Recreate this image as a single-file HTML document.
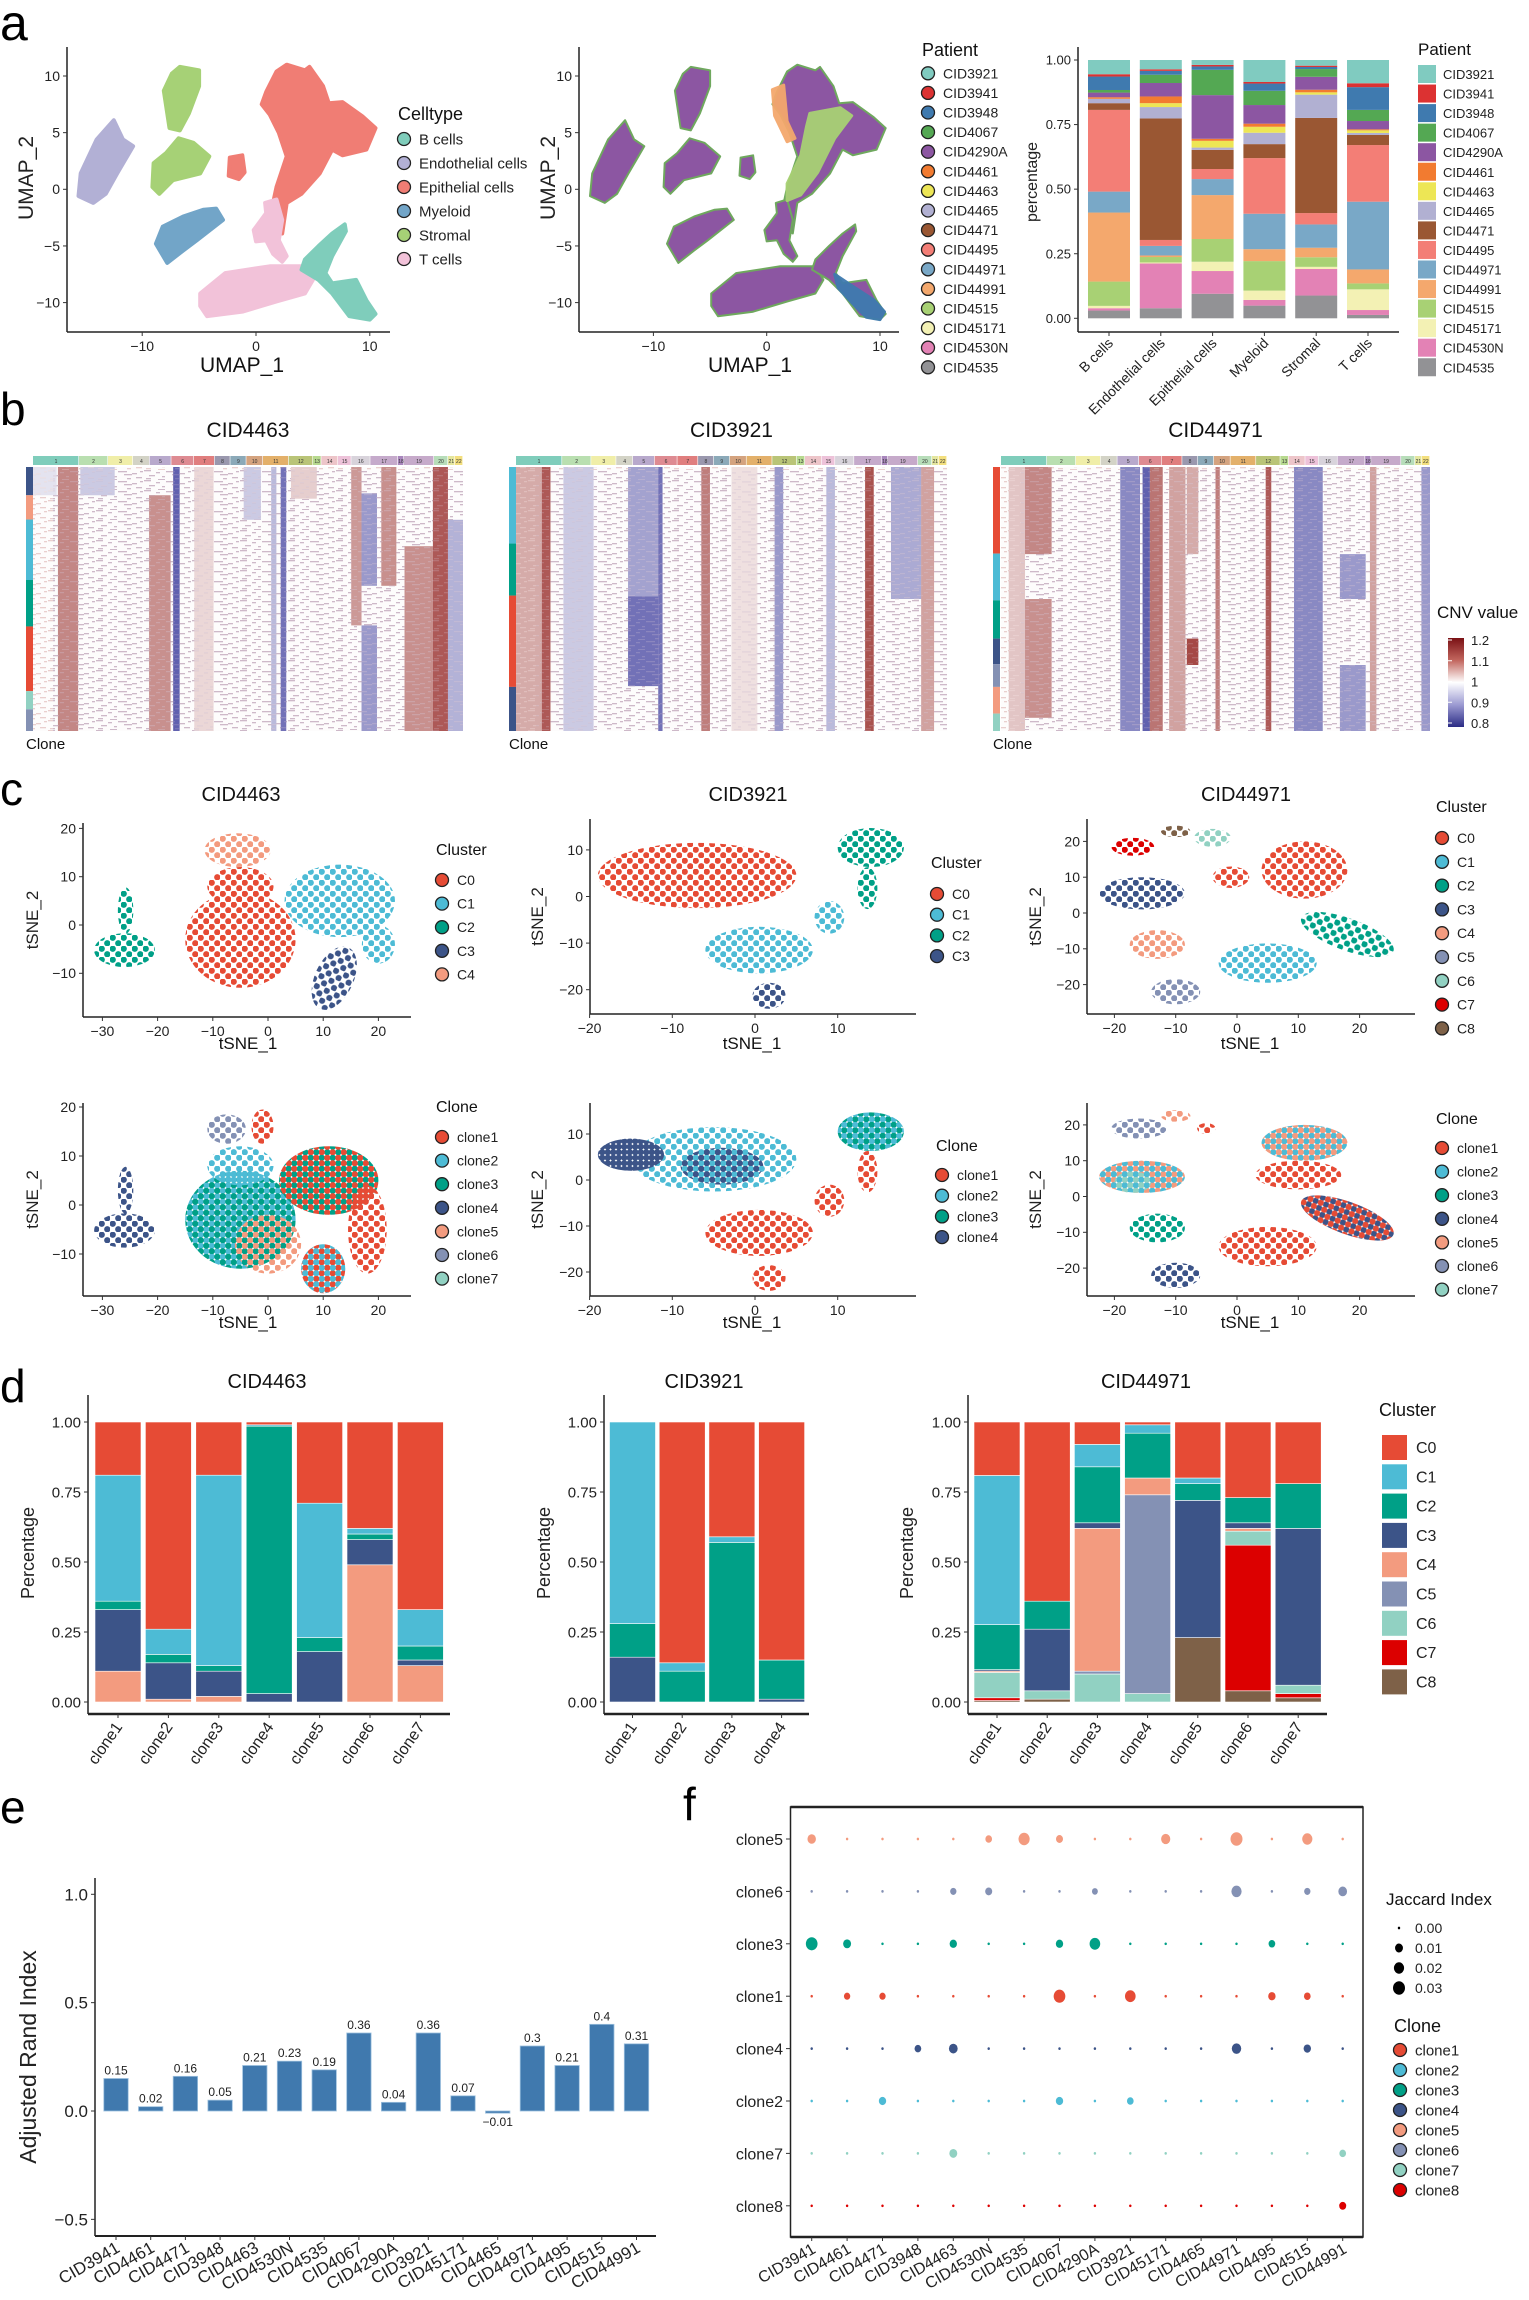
<!DOCTYPE html>
<html><head><meta charset="utf-8">
<style>
body{margin:0;background:#fff}
svg{display:block;font-family:"Liberation Sans",Arial,sans-serif}
</style></head>
<body>
<svg id="fig" width="1529" height="2300" viewBox="0 0 1529 2300" xmlns="http://www.w3.org/2000/svg">
<defs id="defs">
<linearGradient id="cnvGrad" x1="0" y1="0" x2="0" y2="1">
<stop offset="0" stop-color="#7A1014"/><stop offset="0.25" stop-color="#C2665E"/><stop offset="0.5" stop-color="#FFFFFF"/><stop offset="0.75" stop-color="#9C9BD2"/><stop offset="1" stop-color="#2B2C85"/>
</linearGradient>
</defs>
</svg>
<script>
// ================= DATA =================
const celltypes=['B cells','Endothelial cells','Epithelial cells','Myeloid','Stromal','T cells'];
const celltypeColors=['#7FCDBB','#B2B0D5','#F07D74','#72A5C8','#A6D176','#F2C2D9'];
const patients=['CID3921','CID3941','CID3948','CID4067','CID4290A','CID4461','CID4463','CID4465','CID4471','CID4495','CID44971','CID44991','CID4515','CID45171','CID4530N','CID4535'];
const patientColors=['#80CBC0','#DC3232','#3F7AAF','#54A853','#8C56A2','#F27B30','#EDE655','#B1B0D2','#9A5733','#F37E76','#79A8C7','#F4A86D','#A8D174','#F3F1B4','#E382B5','#929295'];
const pctBcells=[.055,.009,.052,.01,.018,.006,0,.017,.026,.316,.081,.267,.094,.009,.009,.03];
const pctEndothelial=[.036,.006,.015,.032,.052,.026,.015,.044,.47,.023,.037,.006,.021,.004,.173,.039];
const pctEpithelial=[.019,.006,.013,.098,.169,.008,.026,.009,.074,.039,.062,.17,.088,.036,.088,.095];
const pctMyeloid=[.085,.006,.028,.055,.072,.012,.023,.044,.054,.215,.137,.046,.114,.036,.022,.049];
const pctStromal=[.022,.005,.008,.03,.05,.01,.009,.09,.368,.044,.09,.037,.037,.008,.103,.088];
const pctTcells=[.09,.015,.088,.043,.032,.004,.01,.008,.039,.219,.262,.054,.023,.08,.019,.013];
const pctTicks=[0,0.25,0.5,0.75,1];
const pctTickLabels=['0.00','0.25','0.50','0.75','1.00'];
const umapTicks=[-10,0,10];
const umapYTicks=[-10,-5,0,5,10];

const chrWidths=[138,87,75,50,65,68,62,47,48,50,77,73,25,50,40,57,83,18,90,42,20,25];
const chrColors=['#7FCDBB','#B9DFB0','#F0EEA8','#D3D3C6','#B8A9CC','#DE8B92','#E07E7E','#9A98AE','#8BA9B8','#D4A37F','#E3B06A','#B9C477','#B7D98F','#EDC5C9','#EDC2D9','#D8D3DB','#C5AACB','#A886BC','#C6AACA','#B7DDB9','#E4E69E','#F3DF7E'];
const hm1Clones=[[0,.107,3],[.107,.199,4],[.199,.428,1],[.428,.604,2],[.604,.849,0],[.849,.918,6],[.918,1,5]];
const hm2Clones=[[0,.29,1],[.29,.487,2],[.487,.833,0],[.833,1,3]];
const hm3Clones=[[0,.328,0],[.328,.505,1],[.505,.65,2],[.65,.747,3],[.747,.833,5],[.833,.934,4],[.934,1,6]];
// bands: [x0frac,x1frac,value,row0,row1]
const hm1Bands=[[0,.055,-.15,0,.107],[.058,.105,.65,0,1],[.11,.19,-.3,0,.107],[.27,.32,.6,.107,1],[.326,.341,-.95,0,1],[.375,.42,.2,0,1],[.49,.53,-.3,0,.2],[.554,.566,-.4,0,1],[.576,.589,-.85,0,1],[.6,.66,.25,0,.12],[.74,.764,.55,0,.6],[.764,.8,-.6,.1,.45],[.764,.8,-.6,.6,1],[.81,.845,.6,0,.45],[.864,.93,.6,.3,1],[.93,.965,.9,0,1],[.965,1,-.45,.2,1]];
const hm2Bands=[[0,.06,.45,0,1],[.06,.08,.9,0,1],[.11,.18,-.3,0,1],[.26,.33,-.55,0,.49],[.26,.33,-.85,.49,.83],[.33,.34,-.85,0,1],[.43,.45,.7,0,1],[.5,.56,.15,0,1],[.6,.62,-.6,0,1],[.72,.74,-.4,0,1],[.81,.83,.95,0,1],[.87,.94,-.5,0,.5],[.94,.97,.5,0,1]];
const hm3Bands=[[.018,.056,.3,0,1],[.056,.118,.65,0,.33],[.056,.118,.6,.5,.95],[.278,.324,-.7,0,1],[.33,.347,-.95,0,1],[.347,.377,.75,0,1],[.392,.43,.5,0,1],[.433,.46,.45,0,.33],[.433,.46,1,.65,.75],[.5,.51,.7,0,1],[.617,.63,.9,0,1],[.683,.75,-.7,0,1],[.79,.85,-.6,.33,.5],[.79,.85,-.6,.75,1],[.86,.875,.5,0,1],[.98,1,-.6,0,1]];
const cnvTicks=[1.2,1.1,1,0.9,0.8];
const cnvTickLabels=['1.2','1.1','1','0.9','0.8'];

const clusterColors=['#E64B35','#4DBBD5','#00A087','#3C5488','#F39B7F','#8491B4','#91D1C2','#DC0000','#7E6148'];
const tsneXTicks1=[-30,-20,-10,0,10,20];
const tsneYTicks1=[-10,0,10,20];
const tsneXTicks2=[-20,-10,0,10];
const tsneYTicks2=[-20,-10,0,10];
const tsneXTicks3=[-20,-10,0,10,20];
const tsneYTicks3=[-20,-10,0,10,20];
// ellipse clouds: [cx, cy, rx, ry, rotDeg, colorIdx, variant]
const c1Cloud=[[-26,-5.2,5.5,3.5,0,2,0],[-25.8,3,1.4,4.8,0,2,0],[-5.5,15.5,6,3.5,0,4,0],[-5,-3,10,10,0,0,0],[-5,8,6,4,0,0,0],[13,5,10,7.5,0,1,0],[20,-4,3,4,0,1,0],[12,-11,3.5,7,25,3,0]];
const c4Cloud=[[-26,-5.2,5.5,3.5,0,3,0],[-25.8,3,1.4,4.8,0,3,0],[-7.5,15.5,3.5,3,0,5,0],[-1,16,2,3.5,0,0,0],[-5,-3,10,10,0,1,0],[-5,-3,10,10,0,2,1],[-5,8,6,4,0,1,1],[0,-8,6,6,0,4,0],[11,5,9,7,0,2,0],[11,5,9,7,0,0,1],[18,-5,3.5,9,0,0,0],[10,-13,4,5,0,0,1],[10,-13,4,5,0,1,0]];
const c2Cloud=[[-7,4.5,12,7,0,0,0],[0.5,-11.5,6.5,5,0,1,0],[9,-4.5,1.8,3.5,0,1,0],[14,10.5,4,4.2,0,2,0],[13.6,1.8,1.2,4.5,0,2,0],[1.7,-21.3,2,2.8,0,3,0]];
const c5Cloud=[[-5,4.5,10,7,0,1,0],[-15,5.5,4,3.5,0,3,1],[-15,5.5,4,3.5,0,3,0],[-4,3,5,4,0,3,1],[0.5,-11.5,6.5,5,0,0,0],[9,-4.5,1.8,3.5,0,0,0],[14,10.5,4,4.2,0,2,0],[14,10.5,4,4.2,0,1,1],[13.6,1.8,1.2,4.5,0,0,0],[1.7,-21.3,2,2.8,0,0,0]];
const c3Cloud=[[-17,18.5,3.5,2.5,0,7,0],[-10,22.8,2.4,1.6,0,8,0],[-4,21,3,2.5,0,6,0],[11,12,7,8,0,0,0],[-1,10,3,3,0,0,0],[-15.5,5.5,7,4.5,0,3,0],[18,-6,8,4.5,20,2,0],[5,-14,8,5.5,0,1,0],[-13,-8.8,4.5,4,0,4,0],[-10,-22,4,3.5,0,5,0]];
const c6Cloud=[[-16,19,4.5,2.8,0,5,0],[-10,22.5,2.4,1.6,0,4,0],[-5,19,1.5,1.5,0,0,0],[11,15,7,5,0,1,0],[11,15,7,5,0,4,1],[10,6,7,4,0,0,0],[-15.5,5.5,7,4.5,0,4,0],[-15.5,5.5,7,4.5,0,1,1],[-17,4,3,3,0,6,0],[18,-6,8,4.5,20,3,0],[18,-6,8,4.5,20,0,1],[5,-14,8,5.5,0,0,0],[-13,-8.8,4.5,4,0,2,0],[-10,-22,4,3.5,0,3,0]];

const d1Clones=['clone1','clone2','clone3','clone4','clone5','clone6','clone7'];
const d1C0=[.19,.74,.19,.01,.29,.38,.67];
const d1C1=[.45,.09,.68,.005,.48,.02,.13];
const d1C2=[.03,.03,.02,.955,.05,.02,.05];
const d1C3=[.22,.13,.09,.03,.18,.09,.02];
const d1C4=[.11,.01,.02,0,0,.49,.13];
const d2Clones=['clone1','clone2','clone3','clone4'];
const d2C0=[0,.86,.41,.85];
const d2C1=[.72,.03,.02,0];
const d2C2=[.12,.11,.57,.14];
const d2C3=[.16,0,0,.01];
const d3Clones=['clone1','clone2','clone3','clone4','clone5','clone6','clone7'];
const d3C0=[.19,.64,.08,.01,.20,.27,.22];
const d3C1=[.53,0,.08,.03,.02,0,0];
const d3C2=[.16,.10,.20,.16,.06,.09,.16];
const d3C3=[.005,.22,.02,0,.49,.02,.56];
const d3C4=[.005,0,.51,.06,0,.01,0];
const d3C5=[0,0,.01,.71,0,0,0];
const d3C6=[.09,.03,.10,.03,0,.05,.03];
const d3C7=[.01,0,0,0,0,.52,.015];
const d3C8=[.005,.01,0,0,.23,.04,.015];

const ariSamples=['CID3941','CID4461','CID4471','CID3948','CID4463','CID4530N','CID4535','CID4067','CID4290A','CID3921','CID45171','CID4465','CID44971','CID4495','CID4515','CID44991'];
const ariValues=[0.15,0.02,0.16,0.05,0.21,0.23,0.19,0.36,0.04,0.36,0.07,-0.01,0.3,0.21,0.4,0.31];
const ariTicks=[-0.5,0,0.5,1.0];
const ariTickLabels=['\u22120.5','0.0','0.5','1.0'];

const jacRows=['clone5','clone6','clone3','clone1','clone4','clone2','clone7','clone8'];
const jacRowColor=[4,5,2,0,3,1,6,7];
const jacClone5=[.012,0,0,0,0,.006,.025,.007,0,0,.015,0,.03,0,.02,0];
const jacClone6=[0,0,0,0,.005,.007,0,0,.004,0,0,0,.02,0,.005,.013];
const jacClone3=[.028,.01,0,0,.008,0,0,.008,.022,0,0,0,0,.006,0,0];
const jacClone1=[0,.005,.005,0,0,0,0,.028,0,.022,0,0,0,.008,.006,0];
const jacClone4=[0,0,0,.006,.013,0,0,0,0,0,0,0,.016,0,.008,0];
const jacClone2=[0,0,.008,0,0,0,0,.008,0,.006,0,0,0,0,0,0];
const jacClone7=[0,0,0,0,.01,0,0,0,0,0,0,0,0,0,0,.006];
const jacClone8=[0,0,0,0,0,0,0,0,0,0,0,0,0,0,0,.007];
const jacLegendVals=[0,0.01,0.02,0.03];
const jacLegendLabels=['0.00','0.01','0.02','0.03'];

// ================= HELPERS =================
const NS='http://www.w3.org/2000/svg';
const svg=document.getElementById('fig');
const defs=document.getElementById('defs');
function mk(tag,attrs,parent){const e=document.createElementNS(NS,tag);for(const k in attrs)e.setAttribute(k,attrs[k]);(parent||svg).appendChild(e);return e;}
function tx(s,attrs,parent){const t=mk('text',attrs,parent);t.textContent=s;return t;}
function nm(e,n){
  
  
  return e;
}
function G(n){const g=mk('g',{});nm(g,n);return g;}

const spk=[[0,0,7],[12,2,4],[22,1,9],[36,3,5],[5,5,6],[18,6,3],[28,4,8],[40,7,6],[2,8,5],[14,9,7],[31,8,4],[44,1,3]];
function speckPattern(id,color){
  const p=mk('pattern',{id:id,width:48,height:10,patternUnits:'userSpaceOnUse'},defs);
  spk.forEach(s=>mk('rect',{x:s[0],y:s[1],width:s[2],height:1.3,fill:color},p));
}
speckPattern('spkR','#A0302A');speckPattern('spkB','#5554B0');speckPattern('spkW','#FFFFFF');
clusterColors.forEach((c,i)=>{
  const a=mk('pattern',{id:'dA'+i,width:11,height:11,patternUnits:'userSpaceOnUse'},defs);
  mk('circle',{cx:2.75,cy:2.75,r:3.1,fill:c},a);mk('circle',{cx:8.25,cy:8.25,r:3.1,fill:c},a);
  const b=mk('pattern',{id:'dB'+i,width:11,height:11,patternUnits:'userSpaceOnUse'},defs);
  mk('circle',{cx:8.25,cy:2.75,r:3.1,fill:c},b);mk('circle',{cx:2.75,cy:8.25,r:3.1,fill:c},b);
});

function panelLabel(s,x,y,size){const t=tx(s,{x:x,y:y,'font-size':size||48,fill:'#000'});nm(t,'panel-label-'+s);}
function axisLine(g,x1,y1,x2,y2,name,w){const l=mk('line',{x1:x1,y1:y1,x2:x2,y2:y2,stroke:'#222',"stroke-width":w||1.5},g);nm(l,name);}
function yAxis(g,x,top,bottom,ticks,labels,ys,fs,prefix){
  axisLine(g,x,top,x,bottom,prefix+'-y-axis-line');
  ticks.forEach((t,i)=>{const y=ys(t);
    const tk=mk('line',{x1:x-4,y1:y,x2:x,y2:y,stroke:'#333','stroke-width':1},g);nm(tk,prefix+'-y-tick');
    const lb=tx(labels[i],{x:x-7,y:y+fs*0.35,'font-size':fs,'text-anchor':'end',fill:'#222'},g);nm(lb,prefix+'-y-tick-label');});
}
function xAxis(g,y,left,right,ticks,labels,xs,fs,prefix){
  axisLine(g,left,y,right,y,prefix+'-x-axis-line');
  ticks.forEach((t,i)=>{const x=xs(t);
    const tk=mk('line',{x1:x,y1:y,x2:x,y2:y+4,stroke:'#333','stroke-width':1},g);nm(tk,prefix+'-x-tick');
    const lb=tx(labels[i],{x:x,y:y+fs+5,'font-size':fs,'text-anchor':'middle',fill:'#222'},g);nm(lb,prefix+'-x-tick-label');});
}
function rotText(g,s,x,y,fs,ang,name,anchor){
  const t=tx(s,{x:x,y:y,'font-size':fs,'text-anchor':anchor||'end',fill:'#222',transform:'rotate('+ang+' '+x+' '+y+')'},g);nm(t,name);return t;
}
function circLegend(g,title,items,colors,x,ty,y0,step,tfs,fs,prefix){
  const t=tx(title,{x:x-6,y:ty,'font-size':tfs,fill:'#111'},g);nm(t,prefix+'-legend-title');
  items.forEach((s,i)=>{const y=y0+i*step;
    const c=mk('circle',{cx:x,cy:y,r:6.5,fill:colors[i],stroke:'#222','stroke-width':1.3},g);nm(c,prefix+'-legend-key');
    const l=tx(s,{x:x+15,y:y+fs*0.36,'font-size':fs,fill:'#222'},g);nm(l,prefix+'-legend-label');});
}

// ================= PANEL A =================
panelLabel('a',0,40,50);
const umapShapes=[
 {cell:1,pts:[[-12.5,6.1],[-11.7,4.4],[-10.8,3.8],[-12.2,1.4],[-13.2,-0.4],[-14.3,-1.2],[-15.6,-0.6],[-15.4,1.4],[-14,4.4]]},
 {cell:4,pts:[[-6.7,10.8],[-5.0,10.5],[-5.0,9.1],[-5.9,6.7],[-6.7,5.2],[-7.6,5.4],[-8.1,8.7],[-7.4,10.2]]},
 {cell:4,pts:[[-6.8,4.5],[-5.5,4.1],[-4.1,2.9],[-4.9,1.4],[-7.3,0.8],[-8.5,-0.4],[-9.1,0.2],[-9.0,2.3],[-7.9,3.2]]},
 {cell:2,pts:[[-2.3,2.8],[-1.2,3],[-1.0,1.5],[-1.5,0.9],[-2.4,1.2]]},
 {cell:3,pts:[[-3.5,-1.7],[-2.9,-2.7],[-5.2,-4.5],[-6.4,-5.4],[-7.8,-6.5],[-8.8,-4.8],[-8.2,-3.3],[-6.4,-2.4],[-4.6,-1.8]]},
 {cell:2,pts:[[0.9,8.6],[1.8,10.4],[2.7,11.0],[4.3,10.5],[4.7,10.8],[5.9,9.1],[6.4,7.6],[7.6,7.7],[9.4,6.4],[10.5,5.4],[9.7,3.5],[7.6,3.0],[6.7,3.5],[5.6,1.4],[4.0,-0.4],[2.7,-1.2],[2.3,-3.9],[1.7,-3.3],[1.5,-1.2],[1.8,0.2],[2.7,2.9],[2.0,5.0],[1.2,6.6],[0.5,7.5]]},
 {cell:5,pts:[[-4.9,-9.2],[-2.7,-7.4],[1.2,-6.8],[4.3,-6.8],[5.0,-8.0],[4.3,-9.2],[1.8,-9.9],[-1.2,-10.8],[-4.3,-11.2],[-4.9,-10.3]]},
 {cell:5,pts:[[0.8,-1.2],[1.8,-0.9],[2.3,-2.7],[2.0,-4.5],[2.7,-5.9],[2.3,-6.4],[1.5,-5.7],[0.9,-4.5],[0,-4.6],[-0.2,-3.6],[0.9,-2.1]]},
 {cell:0,pts:[[7.8,-3.1],[7.9,-3.7],[6.7,-5.9],[6.1,-7.4],[6.7,-8.3],[8.8,-8.0],[9.7,-9.8],[10.5,-11.0],[10.0,-11.5],[8.2,-11.2],[6.7,-9.2],[5.5,-8.0],[4.0,-7.1],[4.3,-6.2],[5.5,-5.0],[6.7,-3.9]]}
];
const umap2Overlays=[
 {patient:12,pts:[[3.8,6.7],[6.5,7.2],[7.5,6.5],[6,4.5],[4.5,1.5],[3,-0.5],[1.8,-1],[1.8,0.5],[3,3],[3.5,5.5]]},
 {patient:11,pts:[[0.5,8.8],[1.5,9.2],[1.8,6],[2.5,4.5],[1.8,4.2],[0.7,6.5]]},
 {patient:2,pts:[[6,-7.5],[7.5,-8.5],[9.5,-9.8],[10.4,-10.8],[10,-11.5],[8.8,-11.3],[7.5,-10],[6.3,-8.7]]}
];
function drawUmap(prefix,x0,unit,colorFn,overlays,sw){
  const g=G(prefix+'-umap');
  const xs=v=>x0+v*unit, ys=v=>189.3-v*11.33;
  umapShapes.forEach(s=>{
    const pts=s.pts.map(p=>xs(p[0]).toFixed(1)+','+ys(p[1]).toFixed(1)).join(' ');
    const c=colorFn(s);
    const pg=mk('polygon',{points:pts,fill:c.fill,stroke:c.stroke,'stroke-width':sw,'stroke-linejoin':'round'},g);
    nm(pg,prefix+'-cell-cloud');
  });
  (overlays||[]).forEach(o=>{
    const pts=o.pts.map(p=>xs(p[0]).toFixed(1)+','+ys(p[1]).toFixed(1)).join(' ');
    const pg=mk('polygon',{points:pts,fill:patientColors[o.patient],stroke:patientColors[o.patient],'stroke-width':3,'stroke-linejoin':'round',opacity:0.95},g);
    nm(pg,prefix+'-patient-cloud');
  });
  return {g,xs,ys};
}
const a1=drawUmap('a1',256,11.38,s=>({fill:celltypeColors[s.cell],stroke:celltypeColors[s.cell]}),null,4);
xAxis(a1.g,332,67,390,umapTicks,['\u221210','0','10'],a1.xs,14,'a1');
yAxis(a1.g,67,47,332,umapYTicks,['\u221210','\u22125','0','5','10'],a1.ys,14,'a1');
{const t=tx('UMAP_1',{x:242,y:372,'font-size':21,'text-anchor':'middle',fill:'#111'},a1.g);nm(t,'a1-x-axis-title');}
rotText(a1.g,'UMAP_2',33,178,21,-90,'a1-y-axis-title','middle');
circLegend(G('celltype-legend'),'Celltype',celltypes,celltypeColors,404,120,139,24,18,15,'celltype');

const a2=drawUmap('a2',766.7,11.33,s=>({fill:'#8C56A2',stroke:'#6FA85E'}),umap2Overlays,2);
xAxis(a2.g,332,579,899,umapTicks,['\u221210','0','10'],a2.xs,14,'a2');
yAxis(a2.g,579,47,332,umapYTicks,['\u221210','\u22125','0','5','10'],a2.ys,14,'a2');
{const t=tx('UMAP_1',{x:750,y:372,'font-size':21,'text-anchor':'middle',fill:'#111'},a2.g);nm(t,'a2-x-axis-title');}
rotText(a2.g,'UMAP_2',555,178,21,-90,'a2-y-axis-title','middle');
circLegend(G('patient-legend'),'Patient',patients,patientColors,928,56,73.3,19.6,18,14,'patient');

{
const g=G('a3-stacked-bar');
const cellPct=[pctBcells,pctEndothelial,pctEpithelial,pctMyeloid,pctStromal,pctTcells];
const ys=v=>318.3-v*258.3;
const bx=i=>1109+i*51.8;
cellPct.forEach((arr,i)=>{
  const tot=arr.reduce((a,b)=>a+b,0);let cum=0;
  for(let k=arr.length-1;k>=0;k--){
    const v=arr[k]/tot; if(v<=0) continue;
    const r=mk('rect',{x:bx(i)-21,y:ys(cum+v),width:42,height:Math.max(0.5,ys(cum)-ys(cum+v)),fill:patientColors[k]},g);
    nm(r,'bar-'+celltypes[i].replace(/ /g,'-').toLowerCase()+'-'+patients[k].toLowerCase());
    cum+=v;
  }
});
yAxis(g,1078,47,332,pctTicks,pctTickLabels,ys,13,'a3');
axisLine(g,1078,332,1399,332,'a3-x-axis-line');
celltypes.forEach((c,i)=>{const x=bx(i);
  const tk=mk('line',{x1:x,y1:332,x2:x,y2:336,stroke:'#333'},g);nm(tk,'a3-x-tick');
  rotText(g,c,x+5,344,14,-45,'a3-x-tick-label');});
rotText(g,'percentage',1037,182,16,-90,'a3-y-axis-title','middle');
const lg=G('a3-patient-legend');
{const t=tx('Patient',{x:1418,y:55,'font-size':17,fill:'#111'},lg);nm(t,'a3-legend-title');}
patients.forEach((p,i)=>{const y=74+i*19.55;
  const r=mk('rect',{x:1418,y:y-9,width:18,height:18,fill:patientColors[i]},lg);nm(r,'a3-legend-key');
  const l=tx(p,{x:1443,y:y+5,'font-size':13,fill:'#222'},lg);nm(l,'a3-legend-label');});
}

// ================= PANEL B =================
panelLabel('b',0,425,46);
function heatmap(prefix,title,x0,x1,clones,bands,barX){
  const g=G(prefix+'-heatmap');
  const top=467,bot=731,W=x1-x0,H=bot-top;
  {const t=tx(title,{x:(x0+x1)/2,y:437,'font-size':21,'text-anchor':'middle',fill:'#111'},g);nm(t,prefix+'-title');}
  const tot=chrWidths.reduce((a,b)=>a+b,0);let cx=x0;
  chrWidths.forEach((w,i)=>{const ww=w/tot*W;
    const r=mk('rect',{x:cx,y:456,width:ww-0.6,height:9,fill:chrColors[i]},g);nm(r,prefix+'-chromosome-'+(i+1));
    const l=tx(String(i+1),{x:cx+ww/2,y:463,'font-size':5,'text-anchor':'middle',fill:'#333'},g);nm(l,prefix+'-chromosome-label');
    cx+=ww;});
  const bg=mk('rect',{x:x0,y:top,width:W,height:H,fill:'#FDFCFC'},g);nm(bg,prefix+'-heatmap-bg');
  const s1=mk('rect',{x:x0,y:top,width:W,height:H,fill:'url(#spkR)',opacity:0.22},g);nm(s1,prefix+'-noise-red');
  const s2=mk('rect',{x:x0+20,y:top+3,width:W-20,height:H-3,fill:'url(#spkB)',opacity:0.18},g);nm(s2,prefix+'-noise-blue');
  bands.forEach(b=>{
    const v=b[2],col=v>0?'#8E1B17':'#2F2F96';
    const rx=x0+b[0]*W,rw=(b[1]-b[0])*W,ry=top+b[3]*H,rh=(b[4]-b[3])*H;
    const r=mk('rect',{x:rx,y:ry,width:rw,height:rh,fill:col,opacity:Math.min(1,Math.abs(v)*0.8)},g);nm(r,prefix+'-cnv-band');
    const o=mk('rect',{x:rx,y:ry,width:rw,height:rh,fill:'url(#spkW)',opacity:0.6-Math.abs(v)*0.4},g);nm(o,prefix+'-cnv-band-texture');
  });
  clones.forEach(c=>{const r=mk('rect',{x:barX,y:top+c[0]*H,width:7,height:(c[1]-c[0])*H,fill:clusterColors[c[2]]},g);nm(r,prefix+'-clone-bar-segment');});
  {const t=tx('Clone',{x:barX,y:749,'font-size':15,fill:'#111'},g);nm(t,prefix+'-clone-label');}
}
heatmap('b1','CID4463',33,463,hm1Clones,hm1Bands,26);
heatmap('b2','CID3921',516,947,hm2Clones,hm2Bands,509);
heatmap('b3','CID44971',1001,1430,hm3Clones,hm3Bands,993);
{
const g=G('cnv-legend');
const t=tx('CNV value',{x:1437,y:618,'font-size':17,fill:'#111'},g);nm(t,'cnv-legend-title');
const r=mk('rect',{x:1448,y:638,width:16,height:89,fill:'url(#cnvGrad)'},g);nm(r,'cnv-colorbar');
const ys=v=>640+(1.2-v)/0.4*83;
cnvTicks.forEach((v,i)=>{const y=ys(v);
  const l=tx(cnvTickLabels[i],{x:1471,y:y+5,'font-size':13,fill:'#222'},g);nm(l,'cnv-tick-label');
  const tk=mk('line',{x1:1448,y1:y,x2:1452,y2:y,stroke:'#fff'},g);nm(tk,'cnv-tick');});
}

// ================= PANEL C =================
panelLabel('c',0,805,46);
function tsne(prefix,cloud,xs,ys,unitX,unitY,left,right,top,bottom,xt,yt,title,titleX,legTitle,legItems,legX,legTY,legY0,legStep,ylabX,xlabX,xlabY){
  const g=G(prefix+'-tsne');
  if(title){const t=tx(title,{x:titleX,y:801,'font-size':20,'text-anchor':'middle',fill:'#111'},g);nm(t,prefix+'-title');}
  cloud.forEach(c=>{
    const e=mk('ellipse',{cx:xs(c[0]),cy:ys(c[1]),rx:c[2]*unitX,ry:c[3]*unitY,fill:'url(#d'+(c[6]?'B':'A')+c[5]+')',transform:'rotate('+c[4]+' '+xs(c[0])+' '+ys(c[1])+')'},g);
    nm(e,prefix+'-point-cloud');
  });
  xAxis(g,bottom,left,right,xt,xt.map(v=>v<0?'\u2212'+(-v):String(v)),xs,14,prefix);
  yAxis(g,left,top,bottom,yt,yt.map(v=>v<0?'\u2212'+(-v):String(v)),ys,14,prefix);
  {const t=tx('tSNE_1',{x:xlabX,y:xlabY,'font-size':17,'text-anchor':'middle',fill:'#111'},g);nm(t,prefix+'-x-axis-title');}
  rotText(g,'tSNE_2',ylabX,(top+bottom)/2,17,-90,prefix+'-y-axis-title','middle');
  circLegend(G(prefix+'-legend'),legTitle,legItems,clusterColors,legX,legTY,legY0,legStep,16,14,prefix);
}
const clusterNames=['C0','C1','C2','C3','C4','C5','C6','C7','C8'];
const cloneNames=['clone1','clone2','clone3','clone4','clone5','clone6','clone7'];
tsne('c1',c1Cloud,v=>268+v*5.52,v=>925-v*4.83,5.52,4.83,83,411,823,1017,tsneXTicks1,tsneYTicks1,'CID4463',241,'Cluster',clusterNames.slice(0,5),442,855,880,23.6,38,248,1049);
tsne('c2',c2Cloud,v=>755+v*8.27,v=>896.5-v*4.66,8.27,4.66,590,916,819,1014,tsneXTicks2,tsneYTicks2,'CID3921',748,'Cluster',clusterNames.slice(0,4),937,868,894,20.7,543,752,1049);
tsne('c3',c3Cloud,v=>1237+v*6.13,v=>913-v*3.58,6.13,3.58,1087,1415,819,1014,tsneXTicks3,tsneYTicks3,'CID44971',1246,'Cluster',clusterNames,1442,812,838,23.8,1041,1250,1049);
tsne('c4',c4Cloud,v=>268+v*5.52,v=>1205-v*4.9,5.52,4.9,83,411,1103,1296,tsneXTicks1,tsneYTicks1,null,0,'Clone',cloneNames,442,1112,1137,23.6,38,248,1328);
tsne('c5',c5Cloud,v=>755+v*8.27,v=>1180-v*4.6,8.27,4.6,590,916,1103,1296,tsneXTicks2,tsneYTicks2,null,0,'Clone',cloneNames.slice(0,4),942,1151,1175,20.7,543,752,1328);
tsne('c6',c6Cloud,v=>1237+v*6.13,v=>1196.5-v*3.58,6.13,3.58,1087,1415,1103,1296,tsneXTicks3,tsneYTicks3,null,0,'Clone',cloneNames,1442,1124,1148,23.6,1041,1250,1328);

// ================= PANEL D =================
panelLabel('d',0,1402,46);
function stacked(prefix,title,titleX,clones,series,axisX,c0,step,bw,right,ylabX){
  const g=G(prefix+'-stacked-bar');
  const ys=v=>1702-v*280;
  {const t=tx(title,{x:titleX,y:1388,'font-size':20,'text-anchor':'middle',fill:'#111'},g);nm(t,prefix+'-title');}
  clones.forEach((cl,i)=>{
    const x=c0+i*step;let tot=0;series.forEach(s=>tot+=s[i]);let cum=0;
    for(let k=series.length-1;k>=0;k--){const v=series[k][i]/tot;if(v<=0)continue;
      const r=mk('rect',{x:x-bw/2,y:ys(cum+v),width:bw,height:Math.max(0.5,ys(cum)-ys(cum+v)),fill:clusterColors[k],stroke:'#fff','stroke-width':0.6},g);
      nm(r,prefix+'-bar-'+cl+'-c'+k);cum+=v;}
  });
  yAxis(g,axisX,1395,1714,pctTicks,pctTickLabels,ys,15,prefix);
  axisLine(g,axisX,1714,right,1714,prefix+'-x-axis-line',2.5);
  clones.forEach((cl,i)=>{const x=c0+i*step;
    const tk=mk('line',{x1:x,y1:1714,x2:x,y2:1718,stroke:'#333'},g);nm(tk,prefix+'-x-tick');
    rotText(g,cl,x+5,1727,16,-55,prefix+'-x-tick-label');});
  rotText(g,'Percentage',ylabX,1553,18,-90,prefix+'-y-axis-title','middle');
}
stacked('d1','CID4463',267,d1Clones,[d1C0,d1C1,d1C2,d1C3,d1C4],88,118,50.4,46,450,34);
stacked('d2','CID3921',704,d2Clones,[d2C0,d2C1,d2C2,d2C3],604,632.5,49.7,46,809,550);
stacked('d3','CID44971',1146,d3Clones,[d3C0,d3C1,d3C2,d3C3,d3C4,d3C5,d3C6,d3C7,d3C8],968,997,50.2,46,1327,913);
{
const g=G('d-cluster-legend');
const t=tx('Cluster',{x:1379,y:1416,'font-size':18,fill:'#111'},g);nm(t,'d-legend-title');
clusterNames.forEach((c,i)=>{const y=1434+i*29.3;
  const r=mk('rect',{x:1382,y:y+1,width:25,height:25,fill:clusterColors[i]},g);nm(r,'d-legend-key');
  const l=tx(c,{x:1416,y:y+19,'font-size':16,fill:'#222'},g);nm(l,'d-legend-label');});
}

// ================= PANEL E =================
panelLabel('e',0,1823,46);
{
const g=G('e-ari-bar');
const ys=v=>2111-v*216.7;
const bx=i=>116+i*34.7;
ariValues.forEach((v,i)=>{
  const y0=ys(Math.max(v,0)),y1=ys(Math.min(v,0));
  const r=mk('rect',{x:bx(i)-12.2,y:y0,width:24.4,height:Math.max(1,y1-y0),fill:'#4079AE',stroke:'#9CC0DE','stroke-width':0.8},g);
  nm(r,'ari-bar-'+ariSamples[i].toLowerCase());
  const lbl=String(v).replace('-','\u2212');
  const l=tx(lbl,{x:bx(i),y:v>=0?y0-4:y1+13,'font-size':12,'text-anchor':'middle',fill:'#222'},g);
  nm(l,'ari-value-label');
});
yAxis(g,95,1878,2236,ariTicks,ariTickLabels,ys,17,'e');
axisLine(g,95,2236,656,2236,'e-x-axis-line',2);
ariSamples.forEach((s,i)=>{const x=bx(i);
  const tk=mk('line',{x1:x,y1:2236,x2:x,y2:2240,stroke:'#333'},g);nm(tk,'e-x-tick');
  rotText(g,s,x+5,2251,17,-30,'e-x-tick-label');});
rotText(g,'Adjusted Rand Index',36,2057,23,-90,'e-y-axis-title','middle');
}

// ================= PANEL F =================
panelLabel('f',683,1820,46);
{
const g=G('f-jaccard-dotplot');
const frame=mk('rect',{x:790.5,y:1807,width:572.5,height:430,fill:'none',stroke:'#222','stroke-width':1.5},g);nm(frame,'f-plot-frame');
axisLine(g,790.5,1807,1363,1807,'f-top-border',2.5);
axisLine(g,790.5,2237,1363,2237,'f-bottom-border',2.5);
const rowY=i=>1839+i*52.4, colX=j=>811.7+j*35.4;
const rad=v=>1.2+4.8*Math.sqrt(v/0.03);
const jac=[jacClone5,jacClone6,jacClone3,jacClone1,jacClone4,jacClone2,jacClone7,jacClone8];
jac.forEach((row,i)=>{
  row.forEach((v,j)=>{
    const c=mk('ellipse',{cx:colX(j),cy:rowY(i),rx:rad(v),ry:rad(v)*1.12,fill:clusterColors[jacRowColor[i]]},g);
    nm(c,'jaccard-dot-'+jacRows[i]+'-'+ariSamples[j].toLowerCase());
  });
  const tk=mk('line',{x1:786,y1:rowY(i),x2:790.5,y2:rowY(i),stroke:'#333'},g);nm(tk,'f-y-tick');
  const l=tx(jacRows[i],{x:783,y:rowY(i)+6,'font-size':16,'text-anchor':'end',fill:'#222'},g);nm(l,'f-y-tick-label');
});
ariSamples.forEach((s,j)=>{const x=colX(j);
  const tk=mk('line',{x1:x,y1:2237,x2:x,y2:2241,stroke:'#333'},g);nm(tk,'f-x-tick');
  rotText(g,s,x+5,2252,16,-30,'f-x-tick-label');});
const lg=G('f-legends');
{const t=tx('Jaccard Index',{x:1386,y:1905,'font-size':17,fill:'#111'},lg);nm(t,'jaccard-legend-title');}
jacLegendVals.forEach((v,i)=>{const y=1928+i*20;
  const c=mk('ellipse',{cx:1399,cy:y,rx:rad(v),ry:rad(v)*1.12,fill:'#000'},lg);nm(c,'jaccard-legend-key');
  const l=tx(jacLegendLabels[i],{x:1415,y:y+5,'font-size':14,fill:'#222'},lg);nm(l,'jaccard-legend-label');});
const cl=['clone1','clone2','clone3','clone4','clone5','clone6','clone7','clone8'];
circLegend(lg,'Clone',cl,clusterColors,1400,2032,2050,20,18,15,'f-clone');
}
</script>
</body></html>
